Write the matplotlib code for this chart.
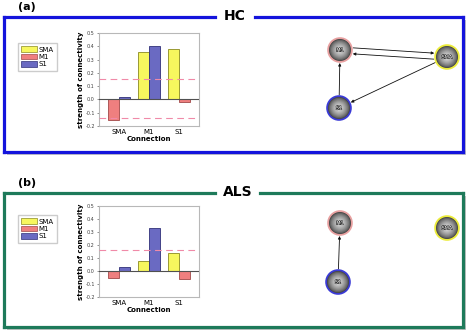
import numpy as np
import matplotlib
matplotlib.use('Agg')
import matplotlib.pyplot as plt
from matplotlib.patches import Rectangle, Circle, Patch
import matplotlib.patheffects as pe

# data
connections = ['SMA', 'M1', 'S1']
series = ['SMA', 'M1', 'S1']
hc_sma = [np.nan, 0.355, 0.378]
hc_m1 = [-0.155, np.nan, -0.02]
hc_s1 = [0.02, 0.405, np.nan]
als_sma = [np.nan, 0.08, 0.135]
als_m1 = [-0.055, np.nan, -0.06]
als_s1 = [0.03, 0.33, np.nan]
hc_thresh = [0.154, -0.141]
als_thresh = [0.165]
yticks = [-0.2, -0.1, 0.0, 0.1, 0.2, 0.3, 0.4, 0.5]
hc_edges = [('M1', 'SMA'), ('SMA', 'M1'), ('SMA', 'S1'), ('S1', 'M1')]
als_edges = [('S1', 'M1')]

fill_col = {'SMA': '#f7f75e', 'M1': '#ef7f7f', 'S1': '#6a6ac2'}
edge_col = {'SMA': '#8a8a20', 'M1': '#a04848', 'S1': '#303078'}
ring_col = {'SMA': '#ecec3a', 'M1': '#e8a0a0', 'S1': '#3a3ad6'}

W, H = 474, 332
fig = plt.figure(figsize=(W / 100, H / 100), dpi=100)
bg = fig.add_axes([0, 0, 1, 1])
bg.set_xlim(0, W)
bg.set_ylim(H, 0)
bg.axis('off')


def panel_box(top, bottom, color, title, tag, gap):
    left, right = 4, 463
    bg.add_patch(Rectangle((left + 3, top + 3), right - left, bottom - top,
                           facecolor='#c4c4c4', edgecolor='none', zorder=1))
    bg.add_patch(Rectangle((left, top), right - left, bottom - top,
                           facecolor='white', edgecolor='none', zorder=2))
    kw = dict(color=color, lw=2.3, zorder=3, solid_capstyle='projecting')
    bg.plot([left, left], [top, bottom], **kw)
    bg.plot([left, right], [bottom, bottom], **kw)
    bg.plot([right, right], [top, bottom], **kw)
    bg.plot([left, gap[0]], [top, top], **kw)
    bg.plot([gap[1], right], [top, top], **kw)
    bg.text((gap[0] + gap[1]) / 2, top - 1, title, ha='center', va='center',
            fontsize=10, fontweight='bold', zorder=4)
    bg.text(18, top - 10, tag, ha='left', va='center', fontsize=8,
            fontweight='bold', zorder=4)


panel_box(17, 152, '#1414dc', 'HC', '(a)', (215, 255))
panel_box(193, 327, '#1e7a5a', 'ALS', '(b)', (215, 260))


def bar_chart(px, vals_list, thresh, legend_xy):
    l, t, r, b = px
    ax = fig.add_axes([l / W, 1 - b / H, (r - l) / W, (b - t) / H])
    x = np.arange(len(connections))
    w = 0.37
    for gi in range(len(connections)):
        present = [s for s, v in zip(series, vals_list) if not np.isnan(v[gi])]
        offs = (np.arange(len(present)) - (len(present) - 1) / 2) * w
        for s, o in zip(present, offs):
            v = vals_list[series.index(s)][gi]
            ax.bar(x[gi] + o, v, width=w, color=fill_col[s],
                   edgecolor=edge_col[s], linewidth=0.6, zorder=2)
    for th in thresh:
        ax.axhline(th, color='#f08aa8', lw=0.8, ls=(0, (6, 4)), zorder=3)
    ax.axhline(0, color='#505050', lw=0.8, zorder=3)
    ax.set_xlim(-0.667, 2.667)
    ax.set_ylim(-0.2, 0.5)
    ax.set_yticks(yticks)
    ax.set_yticklabels(['%.1f' % v for v in yticks])
    ax.set_xticks(x)
    ax.set_xticklabels(connections)
    ax.tick_params(axis='y', labelsize=3.5, length=1.5, width=0.4, pad=1.5, colors='#404040')
    ax.tick_params(axis='x', labelsize=5, length=0, pad=2.5)
    ax.set_ylabel('strength of connectivity', fontsize=5, fontweight='bold', labelpad=1)
    ax.set_xlabel('Connection', fontsize=5, fontweight='bold', labelpad=0.5)
    for sp in ax.spines.values():
        sp.set_color('#b8b8b8')
        sp.set_linewidth(0.8)
    handles = [Patch(facecolor=fill_col[s], edgecolor=edge_col[s], linewidth=0.5, label=s)
               for s in series]
    fig.legend(handles=handles, loc='upper left',
               bbox_to_anchor=(legend_xy[0] / W, 1 - legend_xy[1] / H),
               fontsize=5, frameon=True, fancybox=False, edgecolor='#c0c0c0',
               borderpad=0.5, labelspacing=0.2, handlelength=2.2, handleheight=0.8,
               handletextpad=0.2, borderaxespad=0)


bar_chart((99, 33, 199, 126), [hc_sma, hc_m1, hc_s1], hc_thresh, (18, 43))
bar_chart((99, 206, 199, 297), [als_sma, als_m1, als_s1], als_thresh, (18, 215))

R = 11.0


def node(cx, cy, name):
    bg.add_patch(Circle((cx, cy), R + 1.8, facecolor=ring_col[name],
                        edgecolor='none', zorder=5))
    n = 18
    dark = np.array([0.27, 0.27, 0.27])
    light = np.array([0.92, 0.92, 0.92])
    for i in range(n):
        f = i / (n - 1)
        rr = R - f * R
        c = dark + (light - dark) * f ** 0.7
        bg.add_patch(Circle((cx, cy), max(rr, 0.4), facecolor=c,
                            edgecolor='none', zorder=6))
    bg.text(cx, cy, name, ha='center', va='center', fontsize=3.5, color='white',
            zorder=7, path_effects=[pe.withStroke(linewidth=0.8, foreground='#303030')])


def network(pos, edges):
    for a, b in edges:
        p, q = np.array(pos[a], float), np.array(pos[b], float)
        d = (q - p) / np.linalg.norm(q - p)
        perp = np.array([-d[1], d[0]])
        off = np.zeros(2)
        if (b, a) in edges:
            off = -perp * 3.0
        start = p + d * (R + 2) + off
        end = q - d * (R + 2) + off
        bg.annotate('', xy=end, xytext=start, zorder=4,
                    arrowprops=dict(arrowstyle='-|>', lw=0.6, color='#101010',
                                    mutation_scale=4, shrinkA=0, shrinkB=0))
    for name, (cx, cy) in pos.items():
        node(cx, cy, name)


network({'M1': (340, 50), 'SMA': (447, 57), 'S1': (339, 108)}, hc_edges)
network({'M1': (340, 223), 'SMA': (447, 228), 'S1': (338, 282)}, als_edges)

fig.savefig('out.png', dpi=100)
